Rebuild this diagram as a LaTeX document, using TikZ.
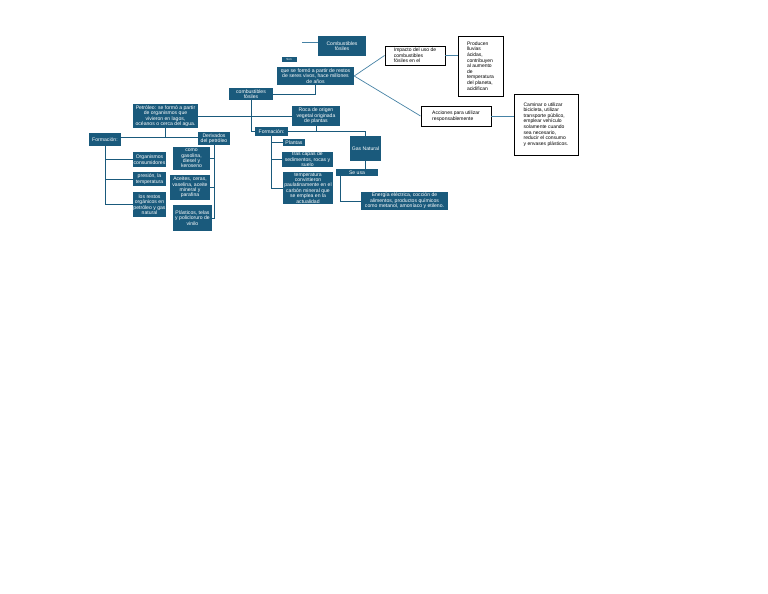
\documentclass[tikz,border=0pt]{standalone}
\usepackage{fontspec}
\setmainfont{Liberation Sans}
\usetikzlibrary{positioning}
\usetikzlibrary{calc}
\definecolor{fosil}{RGB}{26,90,124}
\definecolor{hilo}{RGB}{70,130,165}
\tikzset{dbox/.style n args={2}{fill=fosil, text=white, inner sep=0pt, align=center, minimum width=#1, minimum height=#2, font=\fontsize{5.1}{5.4}\selectfont}}
\tikzset{wbox/.style n args={2}{draw=black, line width=0.9pt, fill=white, inner sep=2pt, align=left, minimum width=#1, minimum height=#2, font=\fontsize{5}{5.6}\selectfont}}
\tikzset{rama/.style={draw=fosil, line width=0.8pt}}
\tikzset{hilo/.style={draw=hilo, line width=0.7pt}}

\begin{document}
\begin{tikzpicture}[x=1pt, y=-1pt]
        \useasboundingbox (0,0) rectangle (768,594);

        \node[dbox={48pt}{20pt}] (fosiles) at (342,46) {Combustibles\\fósiles};
        \node[dbox={15pt}{5pt}, font=\fontsize{3}{3}\selectfont] (son) at (289,59.5) {Son};
        \node[dbox={77pt}{18pt}] (origen) at (315.5,76) {que se formó a partir de restos\\de seres vivos, hace millones\\de años};
        \node[dbox={44pt}{12pt}] (tipos) at (251,94) {combustibles\\fósiles};

        \node[dbox={65pt}{24pt}] (petroleo) at (165.5,116) {Petróleo: se formó a partir\\de organismos que\\vivieron en lagos,\\océanos o cerca del agua.};
        \node[dbox={48pt}{20pt}] (roca) at (316,116) {Roca de origen\\vegetal originada\\de plantas};

        \node[dbox={32pt}{13pt}] (form1) at (105,139.5) {Formación:};
        \node[dbox={32pt}{13pt}] (deriv) at (214,138.5) {Derivados\\del petróleo};
        \node[dbox={33pt}{9pt}] (form2) at (271.5,131.5) {Formación:};
        \node[dbox={31pt}{25pt}] (gas) at (365.5,148.5) {Gas Natural};

        \node[dbox={33pt}{15pt}] (consum) at (149.5,159.5) {Organismos\\consumidores};
        \node[dbox={33pt}{14pt}] (presion) at (149.5,179) {presión, la\\temperatura};
        \node[dbox={33pt}{25pt}] (restos) at (149.5,204.5) {los restos\\orgánicos en\\petróleo y gas\\natural};

        \node[dbox={37pt}{23pt}] (gasolina) at (191.5,158.5) {como\\gasolina,\\diesel y\\keroseno};
        \node[dbox={40pt}{25pt}] (aceites) at (190,187.5) {Aceites, ceras,\\vaselina, aceite\\mineral y\\parafina};
        \node[dbox={39pt}{26pt}] (plasticos) at (192.5,218) {Plásticos, telas\\y policloruro de\\vinilo};

        \node[dbox={22pt}{7pt}] (plantas) at (294,142.5) {Plantas};
        \node[dbox={51pt}{15pt}] (capas) at (307.5,159.5) {tras capas de\\sedimentos, rocas y\\suelo};
        \node[dbox={50pt}{32pt}] (carbon) at (308,188) {temperatura\\convirtieron\\paulatinamente en el\\carbón mineral que\\se emplea en la\\actualidad};

        \node[dbox={42pt}{7pt}] (seusa) at (357,172.5) {Se usa};
        \node[dbox={87pt}{18pt}] (energia) at (404.5,201) {Energía eléctrica, cocción de\\alimentos, productos químicos\\como metanol, amoníaco y etileno.};

        \node[wbox={60pt}{19pt}] (impacto) at (415,55.5) {Impacto del uso de\\combustibles\\fósiles en el};
        \node[wbox={45pt}{60pt}] (producen) at (480.5,66) {Producen\\lluvias\\ácidas,\\contribuyen\\al aumento\\de\\temperatura\\del planeta,\\acidifican};
        \node[wbox={70pt}{20pt}] (acciones) at (456,116) {Acciones para utilizar\\responsablemente};
        \node[wbox={64pt}{61pt}] (caminar) at (546,124.5) {Caminar o utilizar\\bicicleta, utilizar\\transporte público,\\emplear vehículo\\solamente cuando\\sea necesario,\\reducir el consumo\\y envases plásticos.};

        \coordinate (cabo) at (302,42);
        \coordinate (pj) at (165.5,137);

        \draw[hilo] (cabo) -- (cabo -| fosiles.west);
        \draw[rama] (origen.south) |- (tipos.east);
        \draw[rama] (tipos.south) |- (form2.west);
        \draw[rama] (petroleo.east) -- (roca.west);
        \draw[rama] (roca.south) -- (roca.south |- form2.east);
        \draw[rama] (form2.east) -| (gas.north);

        \draw[rama] (petroleo.south) -- (pj);
        \draw[rama] (form1.east |- pj) -- (deriv.west |- pj);

        \draw[rama] (form1.south) |- (consum.west);
        \draw[rama] (form1.south) |- (presion.west);
        \draw[rama] (form1.south) |- (restos.west);

        \draw[rama] (deriv.south) |- (plasticos.east);
        \draw[rama] (deriv.south |- gasolina.east) -- (gasolina.east);
        \draw[rama] (deriv.south |- aceites.east) -- (aceites.east);

        \draw[rama] (form2.south) |- (plantas.west);
        \draw[rama] (form2.south) |- (capas.west);
        \draw[rama] (form2.south) |- (carbon.west);

        \draw[rama] (gas.south) -- (gas.south |- seusa.north);
        \draw[rama] ([xshift=-17pt]seusa.south) |- (energia.west);

        \draw[hilo] (origen.east) -- (impacto.west);
        \draw[hilo] (origen.east) -- (acciones.west);
        \draw[hilo] (impacto.east) -- (producen.west |- impacto.east);
        \draw[hilo] (acciones.east) -- (caminar.west |- acciones.east);
    \end{tikzpicture}
\end{document}
